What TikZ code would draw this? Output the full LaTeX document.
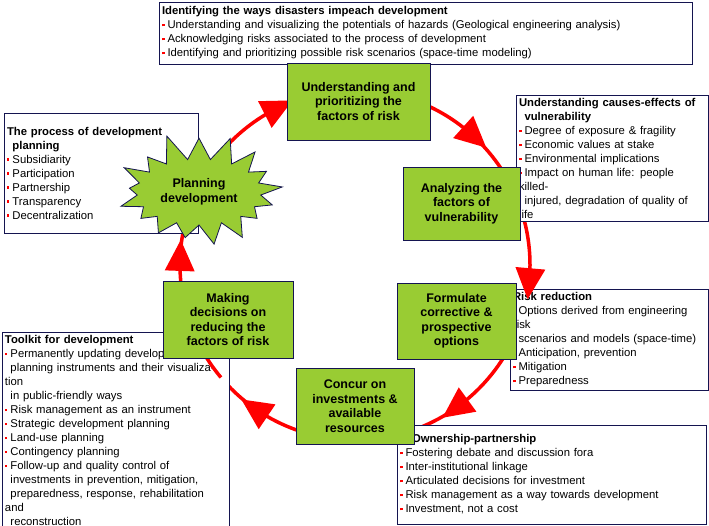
\documentclass[tikz,border=0pt]{standalone}
\usepackage{fontspec}
\setmainfont{Liberation Sans}
\usetikzlibrary{shapes.symbols}
\definecolor{gbox}{RGB}{153,204,51}
\definecolor{navy}{RGB}{20,20,80}
\newcommand{\bl}{\textcolor{red}{\rule[2.5pt]{2.5pt}{2.5pt}}\hspace{3pt}}
\newcommand{\ind}{\hspace{5.5pt}}
\begin{document}
\begin{tikzpicture}[x=1pt,y=1pt,
  tbox/.style={draw=navy,line width=1pt,fill=white,align=left,inner sep=3pt,font=\fontsize{11.3}{14}\selectfont,anchor=center},
  gnode/.style={draw=navy,line width=1pt,fill=gbox,align=center,font=\fontsize{12.5}{14.5}\selectfont\bfseries,inner sep=2pt},
  ring/.style={red,line width=3.5pt}]
\useasboundingbox (0,0) rectangle (709,-525);
\fill[white] (0,0) rectangle (709,-525);
% ring
\coordinate (c) at (355,-265);
\draw[ring] (c) circle (175);
% text boxes
\node[tbox,minimum width=533pt,minimum height=62pt,text width=527pt] (top) at (425.5,-33) {\textbf{Identifying the ways disasters impeach development}\\
\bl Understanding and visualizing the potentials of hazards (Geological engineering analysis)\\
\bl Acknowledging risks associated to the process of development\\
\bl Identifying and prioritizing possible risk scenarios (space-time modeling)};
\node[tbox,minimum width=192pt,minimum height=105pt,text width=186pt] (vul) at (612,-158.5) {\textbf{Understanding causes-effects of}\\\ind\textbf{vulnerability}\\
\bl Degree of exposure \& fragility\\
\bl Economic values at stake\\
\bl Environmental implications\\
\bl Impact on human life: people killed-\\\ind injured, degradation of quality of life};
\node[tbox,minimum width=194pt,minimum height=120pt,text width=188pt] (proc) at (101,-173) {\textbf{The process of development}\\\ind\textbf{planning}\\
\bl Subsidiarity\\ \bl Participation\\ \bl Partnership\\ \bl Transparency\\ \bl Decentralization};
\node[tbox,minimum width=198pt,minimum height=94pt,text width=192pt] (risk) at (609,-340) {\textbf{Risk reduction}\\
\bl Options derived from engineering risk\\\ind scenarios and models (space-time)\\
\bl Anticipation, prevention\\ \bl Mitigation\\ \bl Preparedness};
\node[tbox,minimum width=227pt,minimum height=175pt,text width=221pt] (tool) at (115.5,-430.5) {\textbf{Toolkit for development}\\
\bl Permanently updating development\\\ind planning instruments and their visualization\\\ind in public-friendly ways\\
\bl Risk management as an instrument\\
\bl Strategic development planning\\
\bl Land-use planning\\
\bl Contingency planning\\
\bl Follow-up and quality control of\\\ind investments in prevention, mitigation,\\\ind preparedness, response, rehabilitation and\\\ind reconstruction};
\node[tbox,minimum width=309pt,minimum height=99pt,text width=303pt] (own) at (551.5,-474.5) {\hspace{12pt}\textbf{Ownership-partnership}\\
\bl Fostering debate and discussion fora\\
\bl Inter-institutional linkage\\
\bl Articulated decisions for investment\\
\bl Risk management as a way towards development\\
\bl Investment, not a cost};
% arc pieces over the toolkit box
\draw[ring] (c) ++(-140:175) arc (-140:-160:175);
\foreach \a in {117,48,-5,-54,-124,178}{
  \begin{scope}[shift={(c)},rotate=\a]
    \fill[red] (175,-19) -- (160,12) -- (190,12) -- cycle;
  \end{scope}}
% green nodes
\node[starburst,starburst points=17,starburst point height=28pt,random starburst=11,draw=navy,fill=gbox,line width=0.8pt,minimum width=180pt,minimum height=122pt,font=\fontsize{12.5}{14.5}\selectfont\bfseries,align=center] (plan) at (199,-192) {Planning\\development};
\node[gnode,minimum width=143pt,minimum height=77pt] (und) at (358.5,-101.5) {Understanding and\\prioritizing the\\factors of risk};
\node[gnode,minimum width=117pt,minimum height=73pt] (ana) at (461.5,-203.5) {Analyzing the\\factors of\\vulnerability};
\node[gnode,minimum width=119pt,minimum height=76pt] (form) at (456.5,-321) {Formulate\\corrective \&\\prospective\\options};
\node[gnode,minimum width=118pt,minimum height=76pt] (conc) at (355,-406) {Concur on\\investments \&\\available\\resources};
\node[gnode,minimum width=130pt,minimum height=77pt] (mak) at (228,-319.5) {Making\\decisions on\\reducing the\\factors of risk};
\end{tikzpicture}
\end{document}
